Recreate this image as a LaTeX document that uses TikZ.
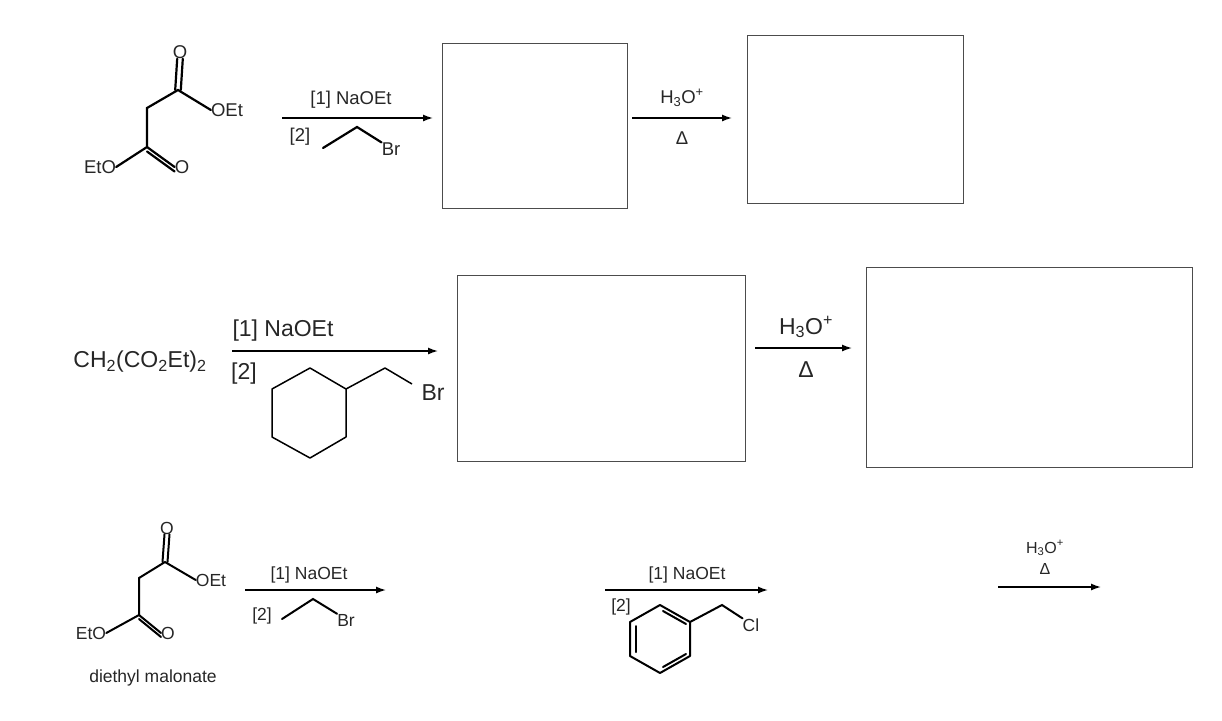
\documentclass[tikz,border=0pt]{standalone}
\usepackage{fontspec}
\setmainfont{Liberation Sans}
\usetikzlibrary{arrows.meta}
\newcommand{\hthree}{H\textsubscript{3}O\textsuperscript{+}}
\begin{document}
\begin{tikzpicture}[x=1pt,y=-1pt,
  bond/.style={line width=2.2pt,line cap=round},
  rxn/.style={line width=1.4pt,-{Latex[length=10pt,width=7pt]}},
  box/.style={draw=black!70,line width=1pt},
  lab/.style={inner sep=0pt,font=#1},
  lab/.default=\fontsize{18.5}{18.5}\selectfont]
\useasboundingbox (0,0) rectangle (1222,720);
\tikzset{every node/.style={text=black!85}}
% ===== Row 1 =====
\node[lab] (r1o1) at (180,52) {O};
\node[lab] (r1oet) at (227,110) {OEt};
\node[lab] (r1eto) at (100,167) {EtO};
\node[lab] (r1o2) at (182,167) {O};
\coordinate (r1c1) at (178,90);
\coordinate (r1ch) at (147,108);
\coordinate (r1c2) at (147,147);
\draw[bond] (r1oet.west) -- (r1c1) -- (r1ch) -- (r1c2) -- (r1eto.east);
\draw[bond] ([xshift=-2.8pt]r1c1) -- ([xshift=-2.8pt]r1o1.south);
\draw[bond] ([xshift=2.8pt]r1c1) -- ([xshift=2.8pt]r1o1.south);
\draw[bond] (r1c2) -- (r1o2.west);
\draw[bond] ([yshift=-4.5pt]r1c2) -- ([yshift=-4.5pt]r1o2.west);
\coordinate (a1s) at (282,118); \coordinate (a1e) at (433,118);
\draw[rxn] (a1s) -- (a1e);
\node[lab] (a1t) at (351,100) {[1] NaOEt};
\node[lab] (a1b) at (300,137) {[2]};
\node[lab] (a1br) at (391,149) {Br};
\draw[bond] (323,148) -- (357,127) -- (a1br.north west);
\node[box,minimum width=185pt,minimum height=165pt] (b1) at (534.5,125.5) {};
\coordinate (a2s) at (632,118); \coordinate (a2e) at (732,118);
\draw[rxn] (a2s) -- (a2e);
\node[lab] (a2t) at (682,98) {\hthree};
\node[lab] (a2b) at (682,138) {Δ};
\node[box,minimum width=216pt,minimum height=168pt] (b2) at (855,119) {};
% ===== Row 2 =====
\node[lab=\fontsize{23}{23}\selectfont] (r2m) at (140,362) {CH\textsubscript{2}(CO\textsubscript{2}Et)\textsubscript{2}};
\coordinate (a3s) at (232,351); \coordinate (a3e) at (438,351);
\draw[rxn] (a3s) -- (a3e);
\node[lab=\fontsize{23}{23}\selectfont] (a3t) at (283,331) {[1] NaOEt};
\node[lab=\fontsize{23}{23}\selectfont] (a3b) at (244,374) {[2]};
\node[lab=\fontsize{23}{23}\selectfont] (a3br) at (433,393) {Br};
\draw[line width=1.5pt,line join=round] (310,368) -- (346,389) -- (346,437) -- (310,458) -- (272,437) -- (272,389) -- cycle;
\draw[line width=1.5pt,line join=round] (346,389) -- (385,368) -- (412,384);
\node[box,minimum width=288pt,minimum height=186pt] (b3) at (601,368) {};
\coordinate (a4s) at (755,348); \coordinate (a4e) at (852,348);
\draw[rxn] (a4s) -- (a4e);
\node[lab=\fontsize{23}{23}\selectfont] (a4t) at (806,327) {\hthree};
\node[lab=\fontsize{23}{23}\selectfont] (a4b) at (806,370) {Δ};
\node[box,minimum width=326pt,minimum height=200pt] (b4) at (1029,367) {};
% ===== Row 3 =====
\tikzset{lab/.default=\fontsize{17.5}{17.5}\selectfont}
\node[lab] (r3o1) at (167,528) {O};
\node[lab] (r3oet) at (211,580) {OEt};
\node[lab] (r3eto) at (91,633) {EtO};
\node[lab] (r3o2) at (168,633) {O};
\coordinate (r3c1) at (165,562);
\coordinate (r3ch) at (139,578);
\coordinate (r3c2) at (139,615);
\draw[bond,line width=2pt] (r3oet.west) -- (r3c1) -- (r3ch) -- (r3c2) -- (r3eto.east);
\draw[bond,line width=2pt] ([xshift=-2.5pt]r3c1) -- ([xshift=-2.5pt]r3o1.south);
\draw[bond,line width=2pt] ([xshift=2.5pt]r3c1) -- ([xshift=2.5pt]r3o1.south);
\draw[bond,line width=2pt] (r3c2) -- (r3o2.west);
\draw[bond,line width=2pt] ([yshift=-4pt]r3c2) -- ([yshift=-4pt]r3o2.west);
\node[lab] (r3name) at (153,678) {diethyl malonate};
\coordinate (a5s) at (245,590); \coordinate (a5e) at (386,590);
\draw[rxn] (a5s) -- (a5e);
\node[lab] (a5t) at (309,575) {[1] NaOEt};
\node[lab] (a5b) at (262,616) {[2]};
\node[lab] (a5br) at (346,620) {Br};
\draw[bond,line width=2pt] (282,619) -- (313,599) -- (a5br.north west);
\coordinate (a6s) at (605,590); \coordinate (a6e) at (768,590);
\draw[rxn] (a6s) -- (a6e);
\node[lab] (a6t) at (687,575) {[1] NaOEt};
\node[lab] (a6b) at (621,607) {[2]};
\node[lab] (a6cl) at (751,625) {Cl};
\draw[bond,line width=2pt,line join=round] (660,605) -- (690,622) -- (690,656) -- (660,673) -- (630,656) -- (630,622) -- cycle;
\draw[bond,line width=2pt] (663,611) -- (686,624);
\draw[bond,line width=2pt] (686,654) -- (663,667);
\draw[bond,line width=2pt] (636,626) -- (636,652);
\draw[bond,line width=2pt] (690,622) -- (722,605) -- (a6cl.north west);
\coordinate (a7s) at (998,587); \coordinate (a7e) at (1101,587);
\draw[rxn] (a7s) -- (a7e);
\node[lab=\fontsize{16}{16}\selectfont] (a7t) at (1045,548) {\hthree};
\node[lab=\fontsize{16}{16}\selectfont] (a7b) at (1045,569) {Δ};
\end{tikzpicture}
\end{document}
